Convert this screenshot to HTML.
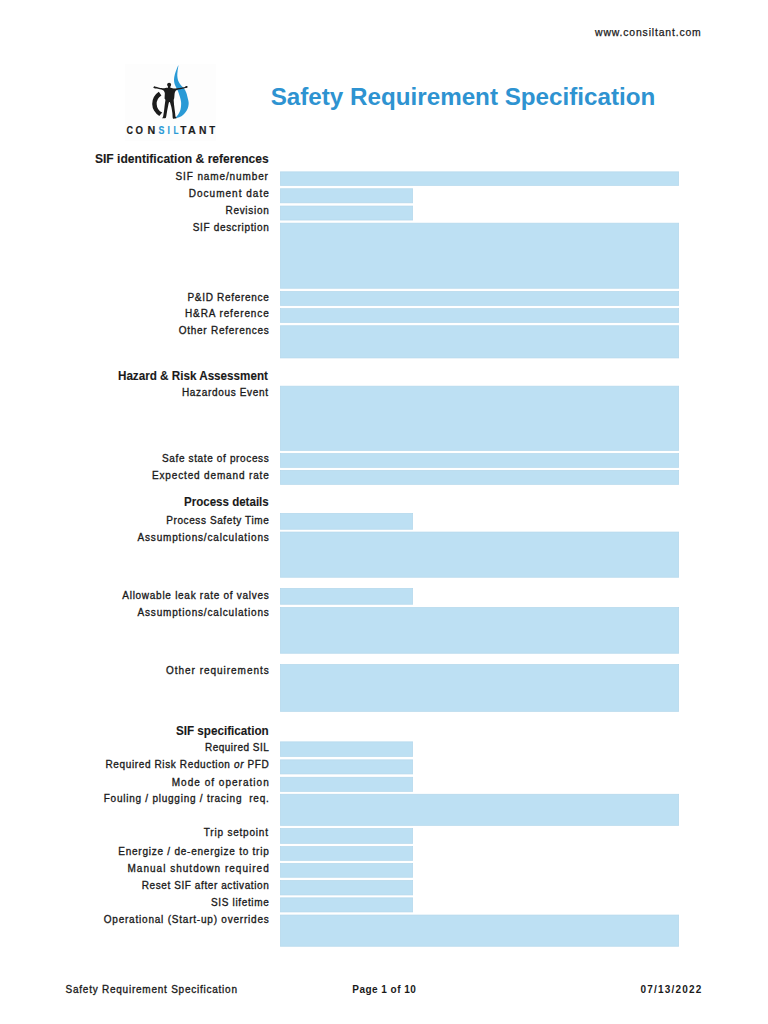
<!DOCTYPE html>
<html><head><meta charset="utf-8"><style>
html,body{margin:0;padding:0;background:#fff;width:768px;height:1024px;overflow:hidden}
svg{display:block}
text{font-family:"Liberation Sans",sans-serif}
</style></head><body>
<svg width="768" height="1024" viewBox="0 0 768 1024" fill="#1a1a1a">

<g id="logo">
 <rect x="125" y="64" width="91" height="77" fill="#fdfdfd"/>
 <path d="M158.8,91.7 A14.1,14.1 0 0 0 159.3,115.9 L162.2,112.6 A9.8,9.8 0 0 1 161.4,95.4 Z" fill="#1c1c1c"/>
 <path d="M178.40,65.30 C178.23,65.00 177.21,67.72 176.60,69.30 C175.99,70.88 175.18,73.10 174.75,74.80 C174.32,76.50 174.03,77.98 174.00,79.50 C173.97,81.02 174.23,82.57 174.60,83.90 C174.97,85.23 175.63,86.28 176.20,87.50 C176.77,88.72 177.38,89.67 178.00,91.20 C178.62,92.73 179.40,95.00 179.90,96.70 C180.40,98.40 180.80,100.00 181.00,101.40 C181.20,102.80 181.18,103.75 181.10,105.10 C181.02,106.45 180.87,108.14 180.50,109.50 C180.13,110.86 179.58,112.05 178.90,113.25 C178.22,114.45 177.05,115.98 176.40,116.70 C175.75,117.42 175.05,117.40 175.00,117.60 C174.95,117.80 175.55,117.90 176.10,117.90 C176.65,117.90 177.25,118.02 178.30,117.60 C179.35,117.18 181.20,116.28 182.40,115.40 C183.60,114.52 184.62,113.43 185.50,112.30 C186.38,111.17 187.18,109.90 187.70,108.60 C188.22,107.30 188.47,105.70 188.60,104.50 C188.73,103.30 188.70,102.70 188.50,101.40 C188.30,100.10 187.78,98.18 187.40,96.70 C187.02,95.22 186.77,93.85 186.20,92.50 C185.63,91.15 184.80,89.72 184.00,88.60 C183.20,87.48 182.15,86.70 181.40,85.80 C180.65,84.90 180.07,84.13 179.50,83.20 C178.93,82.27 178.37,81.43 178.00,80.20 C177.63,78.97 177.37,77.37 177.30,75.85 C177.23,74.33 177.42,72.86 177.60,71.10 C177.78,69.34 178.57,65.60 178.40,65.30 Z" fill="#2a9ad6"/>
 <ellipse cx="169.1" cy="84.8" rx="2.0" ry="2.0" fill="#1c1c1c"/><ellipse cx="186.3" cy="86.9" rx="1.1" ry="0.9" fill="#1c1c1c"/><ellipse cx="154.4" cy="87.4" rx="0.9" ry="0.8" fill="#1c1c1c"/><rect x="168" y="85" width="2.3" height="3.5" fill="#1c1c1c"/>
 <path d="M153.65,87.30 C153.67,87.12 154.33,86.45 154.90,86.50 C155.47,86.55 158.54,87.62 159.40,87.80 C160.26,87.98 162.72,88.30 163.50,88.30 C164.28,88.30 166.47,87.85 167.20,87.80 C167.93,87.75 170.07,87.72 170.80,87.80 C171.53,87.88 173.46,88.60 174.50,88.60 C175.54,88.60 180.11,87.98 181.25,87.80 C182.39,87.62 185.33,86.98 185.90,86.80 C186.47,86.62 186.84,85.98 187.00,86.00 C187.16,86.02 187.55,86.82 187.50,87.00 C187.45,87.18 187.12,87.59 186.50,87.80 C185.88,88.01 182.30,88.84 181.25,89.10 C180.20,89.36 176.66,90.01 176.00,90.40 C175.34,90.79 174.88,92.22 174.70,93.00 C174.52,93.78 174.30,97.50 174.20,98.20 C174.10,98.90 173.70,99.22 173.70,100.00 C173.70,100.78 174.07,104.77 174.20,106.00 C174.33,107.23 174.87,111.25 175.00,112.30 C175.13,113.35 175.34,115.90 175.50,116.50 C175.66,117.10 176.86,118.10 176.60,118.30 C176.34,118.50 173.32,119.00 172.90,118.50 C172.48,118.00 172.56,114.44 172.40,113.30 C172.25,112.16 171.59,108.19 171.35,107.10 C171.11,106.01 170.19,102.90 170.00,102.40 C169.81,101.90 169.62,102.05 169.50,102.10 C169.38,102.15 168.96,102.19 168.75,102.90 C168.54,103.61 167.69,107.95 167.45,109.20 C167.21,110.45 166.59,114.52 166.40,115.40 C166.22,116.28 166.04,117.71 165.60,118.00 C165.16,118.29 162.26,118.40 162.00,118.30 C161.74,118.20 162.80,117.70 163.00,117.00 C163.20,116.30 163.82,112.50 164.00,111.25 C164.18,110.00 164.66,105.62 164.80,104.50 C164.94,103.38 165.42,100.60 165.40,100.00 C165.38,99.40 164.66,99.20 164.60,98.50 C164.54,97.80 164.91,93.81 164.80,93.00 C164.69,92.19 164.09,90.79 163.50,90.40 C162.91,90.01 159.73,89.31 158.85,89.10 C157.97,88.89 155.22,88.48 154.70,88.30 C154.18,88.12 153.63,87.48 153.65,87.30 Z" fill="#1c1c1c"/>
 <text x="126.50" y="133.5" font-size="10" font-weight="bold" stroke-width="0.15" stroke="#1c1c1c" textLength="6.55" lengthAdjust="spacingAndGlyphs" fill="#1c1c1c">C</text><text x="135.60" y="133.5" font-size="10" font-weight="bold" stroke-width="0.15" stroke="#1c1c1c" textLength="7.45" lengthAdjust="spacingAndGlyphs" fill="#1c1c1c">O</text><text x="147.45" y="133.5" font-size="10" font-weight="bold" stroke-width="0.15" stroke="#1c1c1c" textLength="7.75" lengthAdjust="spacingAndGlyphs" fill="#1c1c1c">N</text><text x="158.40" y="133.5" font-size="10" font-weight="bold" stroke-width="0.15" stroke="#2a9ad6" textLength="5.90" lengthAdjust="spacingAndGlyphs" fill="#2a9ad6">S</text><text x="167.45" y="133.5" font-size="10" font-weight="bold" stroke-width="0.15" stroke="#2a9ad6" textLength="2.35" lengthAdjust="spacingAndGlyphs" fill="#2a9ad6">I</text><text x="173.60" y="133.5" font-size="10" font-weight="bold" stroke-width="0.15" stroke="#2a9ad6" textLength="5.00" lengthAdjust="spacingAndGlyphs" fill="#2a9ad6">L</text><text x="180.20" y="133.5" font-size="10" font-weight="bold" stroke-width="0.15" stroke="#1c1c1c" textLength="6.20" lengthAdjust="spacingAndGlyphs" fill="#1c1c1c">T</text><text x="188.00" y="133.5" font-size="10" font-weight="bold" stroke-width="0.15" stroke="#1c1c1c" textLength="7.80" lengthAdjust="spacingAndGlyphs" fill="#1c1c1c">A</text><text x="198.95" y="133.5" font-size="10" font-weight="bold" stroke-width="0.15" stroke="#1c1c1c" textLength="7.45" lengthAdjust="spacingAndGlyphs" fill="#1c1c1c">N</text><text x="209.30" y="133.5" font-size="10" font-weight="bold" stroke-width="0.15" stroke="#1c1c1c" textLength="5.90" lengthAdjust="spacingAndGlyphs" fill="#1c1c1c">T</text>
</g>

<rect x="280.35" y="171.85" width="398.30" height="13.60" fill="#bde0f3" stroke="#b4d7eb" stroke-width="0.7"/>
<rect x="280.35" y="188.75" width="132.30" height="14.10" fill="#bde0f3" stroke="#b4d7eb" stroke-width="0.7"/>
<rect x="280.35" y="206.05" width="132.30" height="14.00" fill="#bde0f3" stroke="#b4d7eb" stroke-width="0.7"/>
<rect x="280.35" y="223.15" width="398.30" height="65.10" fill="#bde0f3" stroke="#b4d7eb" stroke-width="0.7"/>
<rect x="280.35" y="291.45" width="398.30" height="14.00" fill="#bde0f3" stroke="#b4d7eb" stroke-width="0.7"/>
<rect x="280.35" y="308.65" width="398.30" height="13.80" fill="#bde0f3" stroke="#b4d7eb" stroke-width="0.7"/>
<rect x="280.35" y="325.75" width="398.30" height="32.20" fill="#bde0f3" stroke="#b4d7eb" stroke-width="0.7"/>
<rect x="280.35" y="386.15" width="398.30" height="64.30" fill="#bde0f3" stroke="#b4d7eb" stroke-width="0.7"/>
<rect x="280.35" y="453.55" width="398.30" height="13.80" fill="#bde0f3" stroke="#b4d7eb" stroke-width="0.7"/>
<rect x="280.35" y="470.35" width="398.30" height="14.00" fill="#bde0f3" stroke="#b4d7eb" stroke-width="0.7"/>
<rect x="280.35" y="513.35" width="132.30" height="15.90" fill="#bde0f3" stroke="#b4d7eb" stroke-width="0.7"/>
<rect x="280.35" y="532.05" width="398.30" height="45.20" fill="#bde0f3" stroke="#b4d7eb" stroke-width="0.7"/>
<rect x="280.35" y="588.35" width="132.30" height="15.90" fill="#bde0f3" stroke="#b4d7eb" stroke-width="0.7"/>
<rect x="280.35" y="607.45" width="398.30" height="45.80" fill="#bde0f3" stroke="#b4d7eb" stroke-width="0.7"/>
<rect x="280.35" y="664.45" width="398.30" height="46.90" fill="#bde0f3" stroke="#b4d7eb" stroke-width="0.7"/>
<rect x="280.35" y="741.85" width="132.30" height="14.60" fill="#bde0f3" stroke="#b4d7eb" stroke-width="0.7"/>
<rect x="280.35" y="759.85" width="132.30" height="14.10" fill="#bde0f3" stroke="#b4d7eb" stroke-width="0.7"/>
<rect x="280.35" y="777.25" width="132.30" height="14.10" fill="#bde0f3" stroke="#b4d7eb" stroke-width="0.7"/>
<rect x="280.35" y="794.25" width="398.30" height="31.10" fill="#bde0f3" stroke="#b4d7eb" stroke-width="0.7"/>
<rect x="280.35" y="828.45" width="132.30" height="14.90" fill="#bde0f3" stroke="#b4d7eb" stroke-width="0.7"/>
<rect x="280.35" y="846.55" width="132.30" height="13.80" fill="#bde0f3" stroke="#b4d7eb" stroke-width="0.7"/>
<rect x="280.35" y="863.45" width="132.30" height="13.80" fill="#bde0f3" stroke="#b4d7eb" stroke-width="0.7"/>
<rect x="280.35" y="880.45" width="132.30" height="14.50" fill="#bde0f3" stroke="#b4d7eb" stroke-width="0.7"/>
<rect x="280.35" y="897.85" width="132.30" height="14.10" fill="#bde0f3" stroke="#b4d7eb" stroke-width="0.7"/>
<rect x="280.35" y="915.05" width="398.30" height="31.20" fill="#bde0f3" stroke="#b4d7eb" stroke-width="0.7"/>
<text id="t0" x="94.96" y="163.3" font-size="12.2" font-weight="bold" stroke="#1a1a1a" stroke-width="0.1" textLength="173.80" lengthAdjust="spacingAndGlyphs">SIF identification &amp; references</text>
<text id="t1" x="175.50" y="180.2" font-size="10.0" stroke="#1a1a1a" stroke-width="0.32" textLength="92.46" lengthAdjust="spacing">SIF name/number</text>
<text id="t2" x="188.72" y="197.3" font-size="10.0" stroke="#1a1a1a" stroke-width="0.32" textLength="80.04" lengthAdjust="spacing">Document date</text>
<text id="t3" x="225.48" y="214.0" font-size="10.0" stroke="#1a1a1a" stroke-width="0.32" textLength="43.28" lengthAdjust="spacing">Revision</text>
<text id="t4" x="192.76" y="231.1" font-size="10.0" stroke="#1a1a1a" stroke-width="0.32" textLength="76.00" lengthAdjust="spacing">SIF description</text>
<text id="t5" x="187.50" y="300.8" font-size="10.0" stroke="#1a1a1a" stroke-width="0.32" textLength="81.26" lengthAdjust="spacing">P&amp;ID Reference</text>
<text id="t6" x="184.98" y="317.3" font-size="10.0" stroke="#1a1a1a" stroke-width="0.32" textLength="83.78" lengthAdjust="spacing">H&amp;RA reference</text>
<text id="t7" x="178.74" y="334.4" font-size="10.0" stroke="#1a1a1a" stroke-width="0.32" textLength="90.02" lengthAdjust="spacing">Other References</text>
<text id="t8" x="117.96" y="380.1" font-size="12.2" font-weight="bold" stroke="#1a1a1a" stroke-width="0.1" textLength="150.00" lengthAdjust="spacingAndGlyphs">Hazard &amp; Risk Assessment</text>
<text id="t9" x="181.96" y="396.2" font-size="10.0" stroke="#1a1a1a" stroke-width="0.32" textLength="86.00" lengthAdjust="spacing">Hazardous Event</text>
<text id="t10" x="162.00" y="462.2" font-size="10.0" stroke="#1a1a1a" stroke-width="0.32" textLength="106.76" lengthAdjust="spacing">Safe state of process</text>
<text id="t11" x="151.98" y="478.9" font-size="10.0" stroke="#1a1a1a" stroke-width="0.32" textLength="116.78" lengthAdjust="spacing">Expected demand rate</text>
<text id="t12" x="183.98" y="506.1" font-size="12.2" font-weight="bold" stroke="#1a1a1a" stroke-width="0.1" textLength="84.78" lengthAdjust="spacingAndGlyphs">Process details</text>
<text id="t13" x="166.24" y="523.7" font-size="10.0" stroke="#1a1a1a" stroke-width="0.32" textLength="102.52" lengthAdjust="spacing">Process Safety Time</text>
<text id="t14" x="137.54" y="541.0" font-size="10.0" stroke="#1a1a1a" stroke-width="0.32" textLength="131.22" lengthAdjust="spacing">Assumptions/calculations</text>
<text id="t15" x="122.28" y="598.5" font-size="10.0" stroke="#1a1a1a" stroke-width="0.32" textLength="146.48" lengthAdjust="spacing">Allowable leak rate of valves</text>
<text id="t16" x="137.54" y="615.7" font-size="10.0" stroke="#1a1a1a" stroke-width="0.32" textLength="131.22" lengthAdjust="spacing">Assumptions/calculations</text>
<text id="t17" x="166.00" y="674.0" font-size="10.0" stroke="#1a1a1a" stroke-width="0.32" textLength="102.76" lengthAdjust="spacing">Other requirements</text>
<text id="t18" x="175.96" y="734.6" font-size="12.2" font-weight="bold" stroke="#1a1a1a" stroke-width="0.1" textLength="92.80" lengthAdjust="spacingAndGlyphs">SIF specification</text>
<text id="t19" x="205.00" y="751.3" font-size="10.0" stroke="#1a1a1a" stroke-width="0.32" textLength="63.76" lengthAdjust="spacing">Required SIL</text>
<text id="t20" x="105.50" y="768.4" font-size="10.0" stroke="#1a1a1a" stroke-width="0.32" textLength="163.26" lengthAdjust="spacing">Required Risk Reduction <tspan font-style="italic">or</tspan> PFD</text>
<text id="t21" x="171.74" y="785.5" font-size="10.0" stroke="#1a1a1a" stroke-width="0.32" textLength="97.02" lengthAdjust="spacing">Mode of operation</text>
<text id="t22" x="103.74" y="802.4" font-size="10.0" stroke="#1a1a1a" stroke-width="0.32" textLength="165.02" lengthAdjust="spacing">Fouling / plugging / tracing&#160; req.</text>
<text id="t23" x="203.78" y="836.4" font-size="10.0" stroke="#1a1a1a" stroke-width="0.32" textLength="64.18" lengthAdjust="spacing">Trip setpoint</text>
<text id="t24" x="118.24" y="855.0" font-size="10.0" stroke="#1a1a1a" stroke-width="0.32" textLength="150.52" lengthAdjust="spacing">Energize / de-energize to trip</text>
<text id="t25" x="127.48" y="872.1" font-size="10.0" stroke="#1a1a1a" stroke-width="0.32" textLength="141.28" lengthAdjust="spacing">Manual shutdown required</text>
<text id="t26" x="141.74" y="889.0" font-size="10.0" stroke="#1a1a1a" stroke-width="0.32" textLength="127.02" lengthAdjust="spacing">Reset SIF after activation</text>
<text id="t27" x="211.00" y="906.1" font-size="10.0" stroke="#1a1a1a" stroke-width="0.32" textLength="57.76" lengthAdjust="spacing">SIS lifetime</text>
<text id="t28" x="103.74" y="923.0" font-size="10.0" stroke="#1a1a1a" stroke-width="0.32" textLength="165.02" lengthAdjust="spacing">Operational (Start-up) overrides</text>
<text id="t29" x="595.02" y="35.8" font-size="10.4" stroke="#1a1a1a" stroke-width="0.25" textLength="105.74" lengthAdjust="spacing">www.consiltant.com</text>
<text id="t30" x="270.68" y="104.5" font-size="24.2" font-weight="bold" fill="#2e93d1" textLength="384.64" lengthAdjust="spacingAndGlyphs">Safety Requirement Specification</text>
<text id="t31" x="65.52" y="992.5" font-size="10.0" stroke="#1a1a1a" stroke-width="0.32" textLength="171.48" lengthAdjust="spacing">Safety Requirement Specification</text>
<text id="t32" x="352.24" y="992.5" font-size="10.0" font-weight="bold" textLength="63.54" lengthAdjust="spacing">Page 1 of 10</text>
<text id="t33" x="640.48" y="992.5" font-size="10.0" font-weight="bold" textLength="60.76" lengthAdjust="spacing">07/13/2022</text>
</svg>
</body></html>
